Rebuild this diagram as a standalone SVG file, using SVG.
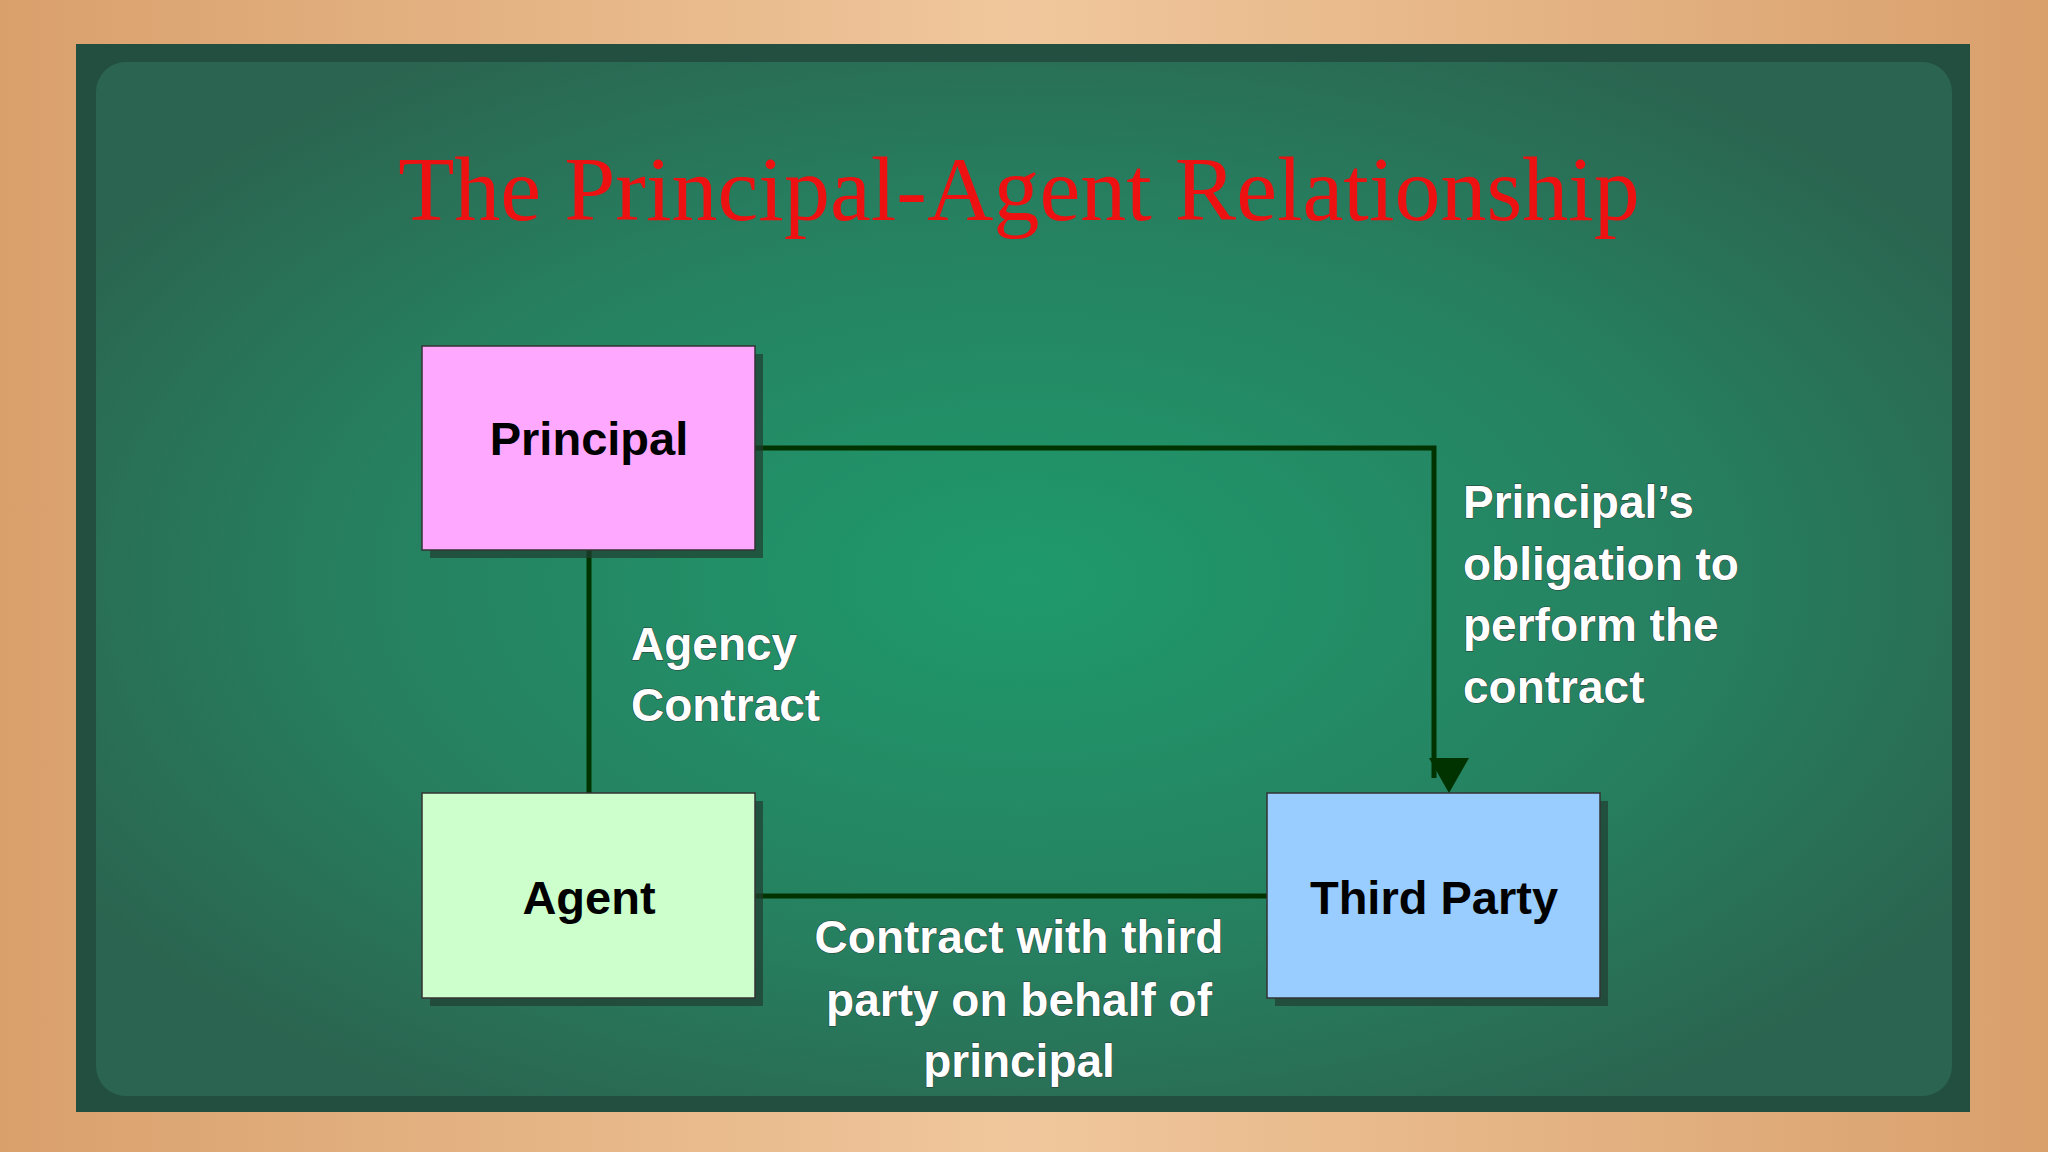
<svg xmlns="http://www.w3.org/2000/svg" width="2048" height="1152" viewBox="0 0 2048 1152">
<defs>
<radialGradient id="board" cx="50%" cy="50%" r="60%">
<stop offset="0" stop-color="#1f9a6c"/>
<stop offset="0.6" stop-color="#268060"/>
<stop offset="1" stop-color="#2b6450"/>
</radialGradient>
<linearGradient id="wood" x1="0" y1="0" x2="1" y2="0">
<stop offset="0" stop-color="#d9a06c"/>
<stop offset="0.5" stop-color="#f0c79c"/>
<stop offset="1" stop-color="#d9a06c"/>
</linearGradient>
<marker id="arr" markerWidth="8" markerHeight="8" refX="4" refY="7" orient="auto" markerUnits="strokeWidth"><path d="M0,0 L8,0 L4,7 z" transform="rotate(-90 4 4)" fill="#003300"/></marker>
<style>
.box{stroke:#333;stroke-width:1.5}
.shadow{fill:#1f3d30;opacity:0.7}
.bt{font-family:"Liberation Sans Narrow","Liberation Sans",sans-serif;font-weight:bold;font-size:47px;fill:#000;text-anchor:middle}
.lb{font-family:"Liberation Sans Narrow","Liberation Sans",sans-serif;font-weight:bold;font-size:46px;fill:#fff;stroke:#2a3a33;stroke-width:1;paint-order:stroke}
.ln{stroke:#003300;stroke-width:5;fill:none}
</style>
</defs>
<rect width="2048" height="1152" fill="url(#wood)"/>
<rect x="76" y="44" width="1894" height="1068" fill="#234f40"/>
<rect x="96" y="62" width="1856" height="1034" rx="30" fill="url(#board)"/>
<text x="1019" y="220" font-family="Liberation Serif,serif" font-size="92" fill="#ee1111" text-anchor="middle">The Principal-Agent Relationship</text>
<g id="connectors">
<path class="ln" d="M755,448 H1434 V778" marker-end="url(#arr)"/>
<path class="ln" d="M589,550 V793"/>
<path class="ln" d="M755,896 H1267"/>
</g>
<g id="principal">
<rect class="shadow" x="430" y="354" width="333" height="204"/>
<rect class="box" x="422" y="346" width="333" height="204" fill="#ffa8ff"/>
<text class="bt" x="589" y="455">Principal</text>
</g>
<g id="agent">
<rect class="shadow" x="430" y="801" width="333" height="205"/>
<rect class="box" x="422" y="793" width="333" height="205" fill="#ccffcc"/>
<text class="bt" x="589" y="914">Agent</text>
</g>
<g id="thirdparty">
<rect class="shadow" x="1275" y="801" width="333" height="205"/>
<rect class="box" x="1267" y="793" width="333" height="205" fill="#99ccff"/>
<text class="bt" x="1434" y="914">Third Party</text>
</g>
<g id="labels">
<text class="lb" x="631" y="660">Agency</text>
<text class="lb" x="631" y="721">Contract</text>
<text class="lb" x="1463" y="518">Principal’s</text>
<text class="lb" x="1463" y="580">obligation to</text>
<text class="lb" x="1463" y="641">perform the</text>
<text class="lb" x="1463" y="703">contract</text>
<text class="lb" x="1019" y="953" text-anchor="middle">Contract with third</text>
<text class="lb" x="1019" y="1016" text-anchor="middle">party on behalf of</text>
<text class="lb" x="1019" y="1077" text-anchor="middle">principal</text>
</g>
</svg>
